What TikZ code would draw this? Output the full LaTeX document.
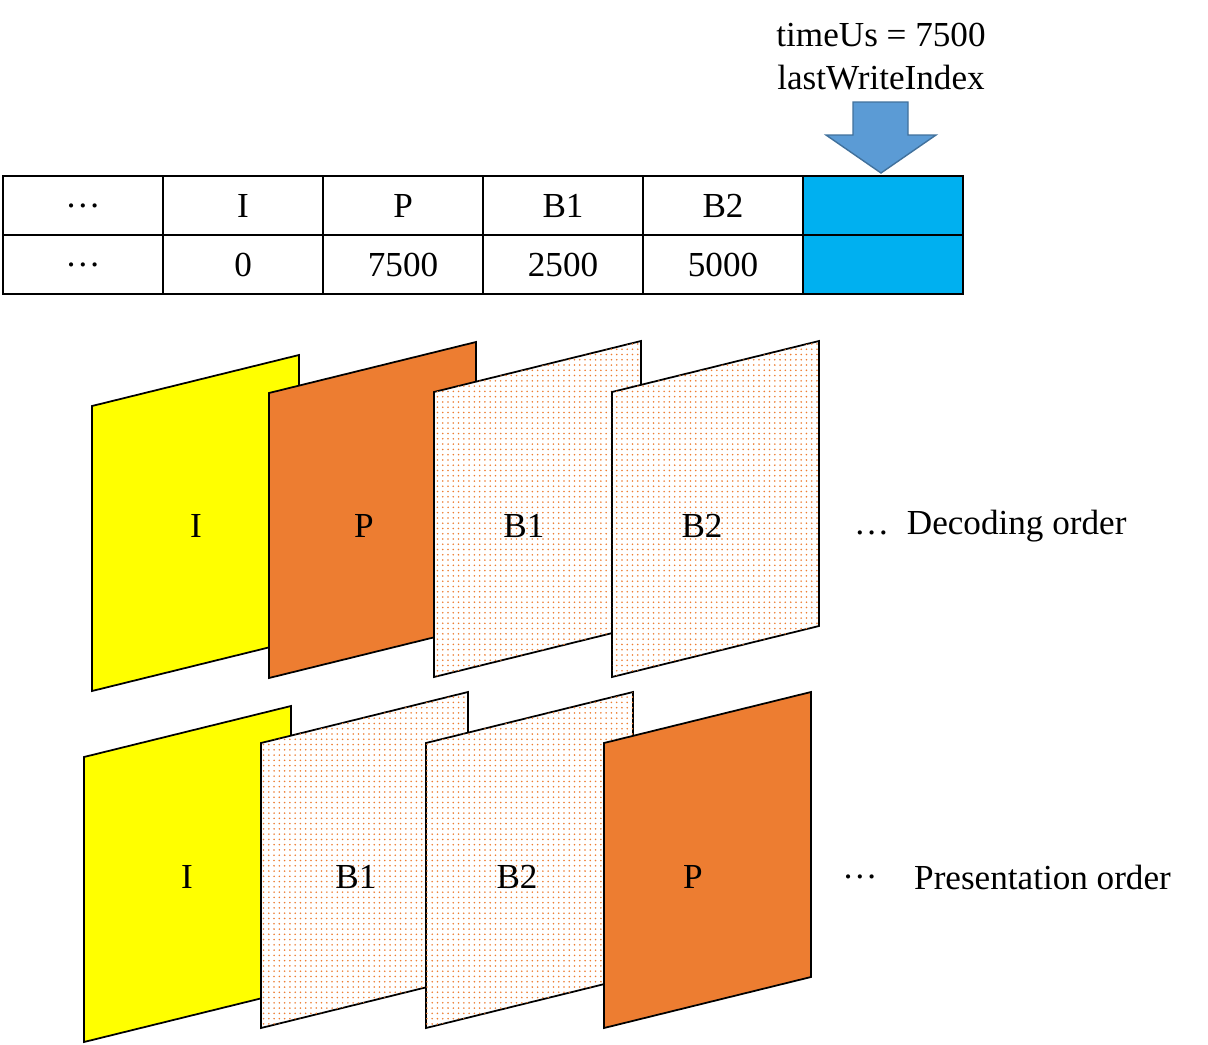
\documentclass[tikz,border=0pt]{standalone}
\usepackage{fontspec}
\setmainfont{Liberation Serif}
\usetikzlibrary{patterns}
\definecolor{frOrange}{RGB}{237,125,49}
\definecolor{frYellow}{RGB}{255,255,0}
\definecolor{cellBlue}{RGB}{0,176,240}
\definecolor{arrBlue}{RGB}{91,155,213}
\definecolor{arrEdge}{RGB}{65,113,156}
\tikzset{
  cell/.style={draw=black, line width=1.2pt, minimum width=3.2cm, minimum height=1.18cm, inner sep=0pt, font=\fontsize{20}{22}\selectfont, anchor=north west},
  lbl/.style={font=\fontsize{20}{22}\selectfont},
  fr/.style={draw=black, line width=1pt, line join=miter},
  frY/.style={fr, fill=frYellow},
  frO/.style={fr, fill=frOrange},
  frB/.style={fr, fill=white, postaction={pattern=dots, pattern color=frOrange}},
}
\newcommand{\vframe}[5]{% style, xleft, yTL, width, label(x)
  \draw[#1] (#2,#3) -- (#2+207,#3-51) -- (#2+207,#3+234) -- (#2,#3+285) -- cycle;}
\begin{document}
\begin{tikzpicture}[x=0.02cm,y=-0.02cm]
\useasboundingbox (0,0) rectangle (1208,1045);
% header text
\node[lbl] (t1) at (881,35) {timeUs = 7500};
\node[lbl] (t2) at (881,78) {lastWriteIndex};
% arrow
\draw[fill=arrBlue, draw=arrEdge, line width=0.8pt] (853,102) -- (908,102) -- (908,135) -- (936,135) -- (881,173) -- (826,135) -- (853,135) -- cycle;
% table
\foreach \i/\a/\b in {0/\ldots/\ldots,1/I/0,2/P/7500,3/B1/2500,4/B2/5000}{
  \node[cell] (c\i a) at (2+160*\i,175) {\a};
  \node[cell] (c\i b) at (2+160*\i,234) {\b};
}
\node[cell, fill=cellBlue] (c5a) at (802,175) {};
\node[cell, fill=cellBlue] (c5b) at (802,234) {};
% decoding order
\vframe{frY}{92}{406}{}{}
\vframe{frO}{269}{393}{}{}
\vframe{frB}{434}{392}{}{}
\vframe{frB}{612}{392}{}{}
\node[lbl] (dI) at (196,526) {I};
\node[lbl] (dP) at (364,526) {P};
\node[lbl] (dB1) at (524,526) {B1};
\node[lbl] (dB2) at (702,526) {B2};
\node[lbl, anchor=west] (dec) at (848,526) {\ldots\ \ Decoding order};
% presentation order
\vframe{frY}{84}{757}{}{}
\vframe{frB}{261}{743}{}{}
\vframe{frB}{426}{743}{}{}
\vframe{frO}{604}{743}{}{}
\node[lbl] (pI) at (187,877) {I};
\node[lbl] (pB1) at (356,877) {B1};
\node[lbl] (pB2) at (517,877) {B2};
\node[lbl] (pP) at (693,877) {P};
\node[lbl] (pd) at (860,877) {\ldots};
\node[lbl, anchor=west] (pres) at (908,877) {Presentation order};
\end{tikzpicture}
\end{document}
